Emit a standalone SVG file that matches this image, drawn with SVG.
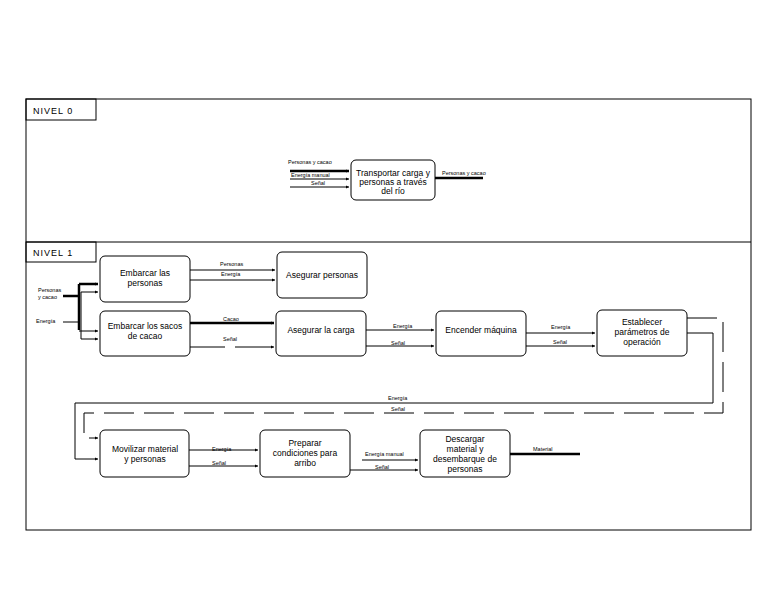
<svg xmlns="http://www.w3.org/2000/svg" width="768" height="614" viewBox="0 0 768 614">
<defs>
<marker id="a" markerWidth="4" markerHeight="4" refX="3" refY="2" orient="auto" markerUnits="userSpaceOnUse"><path d="M0,0.5 L3,2 L0,3.5z" fill="#000"/></marker>
<style>
.b{fill:#fff;stroke:#000;stroke-width:1}
.t{font-family:"Liberation Sans",sans-serif;font-size:8.5px;text-anchor:middle}
.s{font-family:"Liberation Sans",sans-serif;font-size:5.5px}
.l{fill:none;stroke:#000;stroke-width:1}
.k{fill:none;stroke:#000;stroke-width:2.5}
.d{fill:none;stroke:#000;stroke-width:1;stroke-dasharray:30,10}
.h{font-family:"Liberation Sans",sans-serif;font-size:9px;letter-spacing:1px}
</style>
</defs>
<rect width="768" height="614" fill="#fff"/>
<g id="frame">
<rect x="26" y="99" width="725" height="431" fill="none" stroke="#000"/>
<line x1="26" y1="242" x2="751" y2="242" stroke="#000"/>
<rect x="26" y="99" width="70" height="21" fill="none" stroke="#000"/>
<rect x="26" y="242" width="70" height="20" fill="none" stroke="#000"/>
<text x="33" y="114" class="h">NIVEL 0</text>
<text x="33" y="256" class="h">NIVEL 1</text>
</g>
<g id="n0"><rect class="b" x="351" y="160" width="84" height="40" rx="5"/><text class="t" y="176"><tspan x="393">Transportar carga y</tspan><tspan x="393" dy="9">personas a través</tspan><tspan x="393" dy="9">del río</tspan></text></g>
<g id="nA"><rect class="b" x="100" y="256" width="90" height="46" rx="5"/><text class="t" y="276"><tspan x="145">Embarcar las</tspan><tspan x="145" dy="10">personas</tspan></text></g>
<g id="nB"><rect class="b" x="277" y="252" width="90" height="46" rx="5"/><text class="t" x="322" y="278">Asegurar personas</text></g>
<g id="nC"><rect class="b" x="100" y="311" width="90" height="45" rx="5"/><text class="t" y="329"><tspan x="145">Embarcar los sacos</tspan><tspan x="145" dy="10">de cacao</tspan></text></g>
<g id="nD"><rect class="b" x="276" y="311" width="90" height="45" rx="5"/><text class="t" x="321" y="333">Asegurar la carga</text></g>
<g id="nE"><rect class="b" x="436" y="311" width="90" height="45" rx="5"/><text class="t" x="481" y="333">Encender máquina</text></g>
<g id="nF"><rect class="b" x="597" y="310" width="90" height="46" rx="5"/><text class="t" y="325"><tspan x="642">Establecer</tspan><tspan x="642" dy="10">parámetros de</tspan><tspan x="642" dy="10">operación</tspan></text></g>
<g id="nG"><rect class="b" x="100" y="430" width="89" height="47" rx="5"/><text class="t" y="452"><tspan x="145">Movilizar material</tspan><tspan x="145" dy="10">y personas</tspan></text></g>
<g id="nH"><rect class="b" x="260" y="430" width="90" height="47" rx="5"/><text class="t" y="446"><tspan x="305">Preparar</tspan><tspan x="305" dy="10">condiciones para</tspan><tspan x="305" dy="10">arribo</tspan></text></g>
<g id="nI"><rect class="b" x="420" y="430" width="90" height="47" rx="5"/><text class="t" y="442"><tspan x="465">Descargar</tspan><tspan x="465" dy="10">material y</tspan><tspan x="465" dy="10">desembarque de</tspan><tspan x="465" dy="10">personas</tspan></text></g>
<g id="connectors">
<path class="k" d="M290,171 H349" marker-end="url(#a)"/>
<path class="l" d="M290,179 H349" marker-end="url(#a)"/>
<path class="l" d="M290,187 H349" marker-end="url(#a)"/>
<path class="k" d="M435,178 H483"/>
<path class="k" d="M63,296 H79"/>
<path class="l" d="M63,322 H78"/>
<path class="k" d="M79,284 V330"/>
<path class="k" d="M79,284 H98" marker-end="url(#a)"/>
<path class="l" d="M81,292 H98" marker-end="url(#a)"/>
<path class="l" d="M81,292 V339 H98" marker-end="url(#a)"/>
<path class="l" d="M79,331 H98" marker-end="url(#a)"/>
<path class="l" d="M190,270 H275" marker-end="url(#a)"/>
<path class="l" d="M190,280 H275" marker-end="url(#a)"/>
<path class="k" d="M190,323 H274" marker-end="url(#a)"/>
<path class="l" d="M190,347 H225 M235,347 H274" marker-end="url(#a)"/>
<path class="l" d="M366,330 H434" marker-end="url(#a)"/>
<path class="l" d="M366,346 H434" marker-end="url(#a)"/>
<path class="l" d="M526,333 H595" marker-end="url(#a)"/>
<path class="l" d="M526,346 H595" marker-end="url(#a)"/>
<path class="l" d="M687,333 H713 V403 H75 V459 H98" marker-end="url(#a)"/>
<path class="d" d="M687,318 H723 V413 H84 V438 H98" marker-end="url(#a)"/>
<path class="l" d="M189,450 H258" marker-end="url(#a)"/>
<path class="l" d="M189,466 H258" marker-end="url(#a)"/>
<path class="l" d="M362,460 H418" marker-end="url(#a)"/>
<path class="l" d="M350,470 H418" marker-end="url(#a)"/>
<path class="k" d="M510,454 H580"/>
</g>
<g id="labels">
<text class="s" x="288" y="164">Personas y cacao</text>
<text class="s" x="291" y="177">Energía manual</text>
<text class="s" x="311" y="185">Señal</text>
<text class="s" x="442" y="175">Personas y cacao</text>
<text class="s" x="38" y="292">Personas</text>
<text class="s" x="38" y="299">y cacao</text>
<text class="s" x="36" y="323">Energía</text>
<text class="s" x="220" y="266">Personas</text>
<text class="s" x="221" y="276">Energía</text>
<text class="s" x="223" y="321">Cacao</text>
<text class="s" x="223" y="341">Señal</text>
<text class="s" x="393" y="328">Energía</text>
<text class="s" x="391" y="345">Señal</text>
<text class="s" x="551" y="329">Energía</text>
<text class="s" x="553" y="344">Señal</text>
<text class="s" x="388" y="400">Energía</text>
<text class="s" x="391" y="411">Señal</text>
<text class="s" x="212" y="451">Energía</text>
<text class="s" x="212" y="465">Señal</text>
<text class="s" x="365" y="456">Energía manual</text>
<text class="s" x="375" y="469">Señal</text>
<text class="s" x="533" y="451">Material</text>
</g>
</svg>
